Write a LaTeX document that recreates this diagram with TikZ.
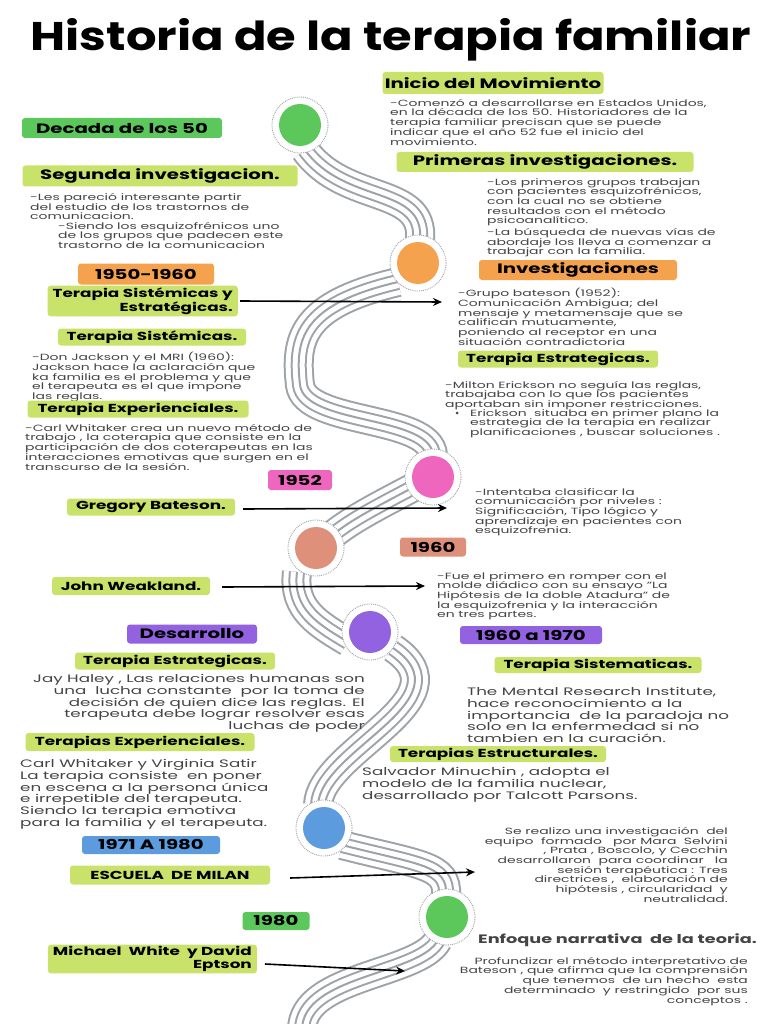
\documentclass[tikz,border=0pt]{standalone}
\usepackage{fontspec}
\setmainfont{Poppins}[FakeStretch=1.55]
\newfontfamily\hfont{Poppins}[UprightFont=* Bold,FakeStretch=1.45]
\newfontfamily\tfont{Poppins}[UprightFont=* Bold,FakeStretch=1.2]
\usetikzlibrary{arrows.meta}
\definecolor{lime}{HTML}{C9E26A}
\definecolor{cgreen}{HTML}{5CC85C}
\definecolor{corange}{HTML}{F5A24E}
\definecolor{cpink}{HTML}{EE66BE}
\definecolor{csalmon}{HTML}{DF907A}
\definecolor{cpurple}{HTML}{9262E0}
\definecolor{cblue}{HTML}{5C9CDE}
\definecolor{stripe}{HTML}{9EA3A8}
\definecolor{btext}{HTML}{444444}
\tikzset{
 hb/.style={fill=lime,rounded corners=3pt,inner sep=0pt,font=\hfont\fontsize{11.6}{12.5}\selectfont,text=black},
 bighb/.style={hb,font=\hfont\fontsize{13.6}{15}\selectfont},
 body/.style={anchor=north west,inner sep=0pt,align=left,text=btext,font=\fontsize{9}{9.7}\selectfont},
 bigbody/.style={anchor=north west,inner sep=0pt,align=left,text=btext,font=\fontsize{10.8}{11.8}\selectfont},
 arr/.style={-{Stealth[length=9pt,width=8pt]},line width=1.6pt,black},
 ring/.style={circle,fill=white,draw=stripe,densely dotted,line width=0.9pt,minimum size=56pt,inner sep=0pt},
}
\newcommand{\stripes}[1]{%
 \draw[stripe,line width=30pt] #1;
 \draw[white,line width=26pt] #1;
 \draw[stripe,line width=16pt] #1;
 \draw[white,line width=12pt] #1;
 \draw[stripe,line width=2pt] #1;}
\begin{document}
\begin{tikzpicture}[x=1pt,y=-1pt]
\useasboundingbox[fill=white] (0,0) rectangle (768,1024);
% stripes
\stripes{(305,150) .. controls (345,205) and (425,185) .. (420,240)}
\stripes{(398,282) .. controls (300,305) and (295,340) .. (300,385) .. controls (305,425) and (430,415) .. (433,455)}
\stripes{(412,488) .. controls (380,505) and (350,520) .. (330,537)}
\stripes{(297,572) .. controls (292,610) and (320,625) .. (348,642)}
\stripes{(393,648) .. controls (470,700) and (320,750) .. (318,805)}
\stripes{(342,845) .. controls (420,865) and (448,865) .. (446,895)}
\stripes{(438,940) .. controls (420,975) and (302,975) .. (302,1030)}
% circles
\foreach \n/\x/\y/\c in {c1/300/125/cgreen,c2/418/263/corange,c3/433/477/cpink,c4/316/548/csalmon,c5/370/632/cpurple,c6/324/828/cblue,c7/447/917/cgreen}{
 \node[ring] (r\n) at (\x,\y) {};
 \node[circle,fill=\c,minimum size=42pt,inner sep=0pt] (\n) at (\x,\y) {};
}
% title
\node[font=\tfont\fontsize{40}{42}\selectfont] (title) at (391,40) {Historia de la terapia familiar};
% headers
\node[bighb,minimum width=221pt,minimum height=22pt] (h1) at (493,83) {Inicio del Movimiento};
\node[body] (b1) at (390,99) {-Comenzó a desarrollarse en Estados Unidos,\\en la década de los 50. Historiadores de la\\terapia familiar precisan que se puede\\indicar que el año 52 fue el inicio del\\movimiento.};
\node[bighb,fill=cgreen,minimum width=200pt,minimum height=20pt] (h2) at (122,128) {Decada de los 50};
\node[bighb,minimum width=297pt,minimum height=20pt] (h3) at (545,162) {Primeras investigaciones.};
\node[bighb,minimum width=275pt,minimum height=21pt] (h4) at (160,176) {Segunda investigacion.};
\node[body] (b4a) at (30,193) {-Les pareció interesante partir\\del estudio de los trastornos de\\comunicacion.};
\node[body] (b4b) at (58,222) {-Siendo los esquizofrénicos uno\\de los grupos que padecen este\\trastorno de la comunicacion};
\node[body] (b3) at (487,178) {-Los primeros grupos trabajan\\con pacientes esquizofrénicos,\\con la cual no se obtiene\\resultados con el método\\psicoanalítico.\\[2pt]-La búsqueda de nuevas vías de\\abordaje los lleva a comenzar a\\trabajar con la familia.};
\node[bighb,fill=corange,minimum width=136pt,minimum height=21pt] (h5) at (146,274) {1950-1960};
\node[bighb,fill=corange,minimum width=198pt,minimum height=20pt] (h6) at (578,270) {Investigaciones};
\node[hb,align=right,inner xsep=5pt,inner ysep=2pt,anchor=east] (h7) at (238,301) {Terapia Sistémicas y\\Estratégicas.};
\node[body] (b6) at (458,288) {-Grupo bateson (1952):\\Comunicación Ambigua; del\\mensaje y metamensaje que se\\califican mutuamente,\\poniendo al receptor en una\\situación contradictoria};
\coordinate (a1) at (442,302);
\draw[arr] (h7.east) ++(2,0) -- (a1);
\node[hb,minimum width=188pt,minimum height=17pt] (h8) at (152,337) {Terapia Sistémicas.};
\node[hb,minimum width=200pt,minimum height=17pt] (h9) at (558,359) {Terapia Estrategicas.};
\node[body] (b8) at (32,352) {-Don Jackson y el MRI (1960):\\Jackson hace la aclaración que\\ka familia es el problema y que\\el terapeuta es el que impone\\las reglas.};
\node[body] (b9) at (445,381) {-Milton Erickson no seguía las reglas,\\trabajaba con lo que los pacientes\\aportaban sin imponer restricciones.};
\node[body] (b9b) at (470,409) {Erickson\ \ situaba en primer plano la\\estrategia de la terapia en realizar\\planificaciones , buscar soluciones .};
\fill[btext] (457,413) circle (1.5pt);
\node[hb,minimum width=221pt,minimum height=17pt] (h10) at (138,409) {Terapia Experienciales.};
\node[body] (b10) at (25,424) {-Carl Whitaker crea un nuevo método de\\trabajo , la coterapia que consiste en la\\participación de dos coterapeutas en las\\interacciones emotivas que surgen en el\\transcurso de la sesión.};
\node[bighb,fill=cpink,minimum width=64pt,minimum height=20pt] (h11) at (300,480) {1952};
\node[hb,minimum width=168pt,minimum height=17pt] (h12) at (151,507) {Gregory Bateson.};
\node[body] (b12) at (475,488) {-Intentaba clasificar la\\comunicación por niveles :\\Significación, Tipo lógico y\\aprendizaje en pacientes con\\esquizofrenia.};
\coordinate (a2) at (447,508);
\draw[arr] (h12.east) ++(8,2) -- (a2);
\node[bighb,fill=csalmon,minimum width=66pt,minimum height=19pt] (h13) at (433,547) {1960};
\node[hb,minimum width=158pt,minimum height=18pt] (h14) at (131,586) {John Weakland.};
\node[body] (b14) at (437,572) {-Fue el primero en romper con el\\molde diádico con su ensayo "La\\Hipótesis de la doble Atadura" de\\la esquizofrenia y la interacción\\en tres partes.};
\coordinate (a3) at (425,586);
\draw[arr] (h14.east) ++(12,1) -- (a3);
\node[bighb,fill=cpurple,minimum width=130pt,minimum height=19pt] (h15) at (192,634) {Desarrollo};
\node[bighb,fill=cpurple,minimum width=142pt,minimum height=18pt] (h16) at (531,635) {1960 a 1970};
\node[hb,minimum width=200pt,minimum height=17pt] (h17) at (175,661) {Terapia Estrategicas.};
\node[bigbody,align=right,anchor=north east] (b17) at (365,674) {Jay Haley , Las relaciones humanas son\\una\ \ lucha constante\ \ por la toma de\\decisión de quien dice las reglas. El\\terapeuta debe lograr resolver esas\\luchas de poder\hspace{20pt}};
\node[hb,minimum width=207pt,minimum height=16pt] (h18) at (598,665) {Terapia Sistematicas.};
\node[bigbody] (b18) at (467,687) {The Mental Research Institute,\\hace reconocimiento a la\\importancia\ \ de la paradoja no\\solo en la enfermedad si no\\tambien en la curación.};
\node[hb,minimum width=229pt,minimum height=18pt] (h19) at (140,742) {Terapias Experienciales.};
\node[hb,minimum width=216pt,minimum height=16pt] (h20) at (498,754) {Terapias Estructurales.};
\node[bigbody] (b19) at (20,759) {Carl Whitaker y Virginia Satir\\La terapia consiste\ \ en poner\\en escena a la persona única\\e irrepetible del terapeuta.\\Siendo la terapia emotiva\\para la familia y el terapeuta.};
\node[bigbody] (b20) at (362,767) {Salvador Minuchin , adopta el\\modelo de la familia nuclear,\\desarrollado por Talcott Parsons.};
\node[bighb,fill=cblue,minimum width=138pt,minimum height=18pt] (h21) at (151,845) {1971 A 1980};
\node[hb,minimum width=200pt,minimum height=19pt] (h22) at (170,875) {ESCUELA\ \ DE MILAN};
\node[body,align=right,anchor=north east] (b22) at (728,827) {Se realizo una investigación\ \ del\\equipo\ \ formado\ \ \ por Mara\ \ Selvini\\, Prata , Boscolo, y Cecchin\ \\desarrollaron\ \ para coordinar\ \ \ la\\sesión terapéutica : Tres\\directrices ,\ \ elaboración de\\hipótesis , circularidad\ \ y\\neutralidad.};
\coordinate (a4) at (475,872);
\draw[arr] (h22.east) ++(20,3) -- (a4);
\node[bighb,fill=cgreen,minimum width=67pt,minimum height=18pt] (h23) at (276,921) {1980};
\node[anchor=east,inner sep=0pt,text=btext,font=\hfont\fontsize{12.2}{13}\selectfont] (h24) at (757,940) {Enfoque narrativa\ \ de la teoria.};
\node[hb,align=right,inner xsep=5pt,inner ysep=2pt,anchor=east] (h25) at (257,959) {Michael\ \ White\ \ y David\\Eptson};
\node[body,align=right,anchor=north east] (b25) at (748,957) {Profundizar el método interpretativo de\\Bateson , que afirma que la comprensión\ \\que tenemos\ \ de un hecho\ \ esta\\determinado\ \ y restringido\ \ por sus\\conceptos .};
\coordinate (a5) at (405,971);
\draw[arr] (h25.east) ++(8,5) -- (a5);
\end{tikzpicture}
\end{document}
